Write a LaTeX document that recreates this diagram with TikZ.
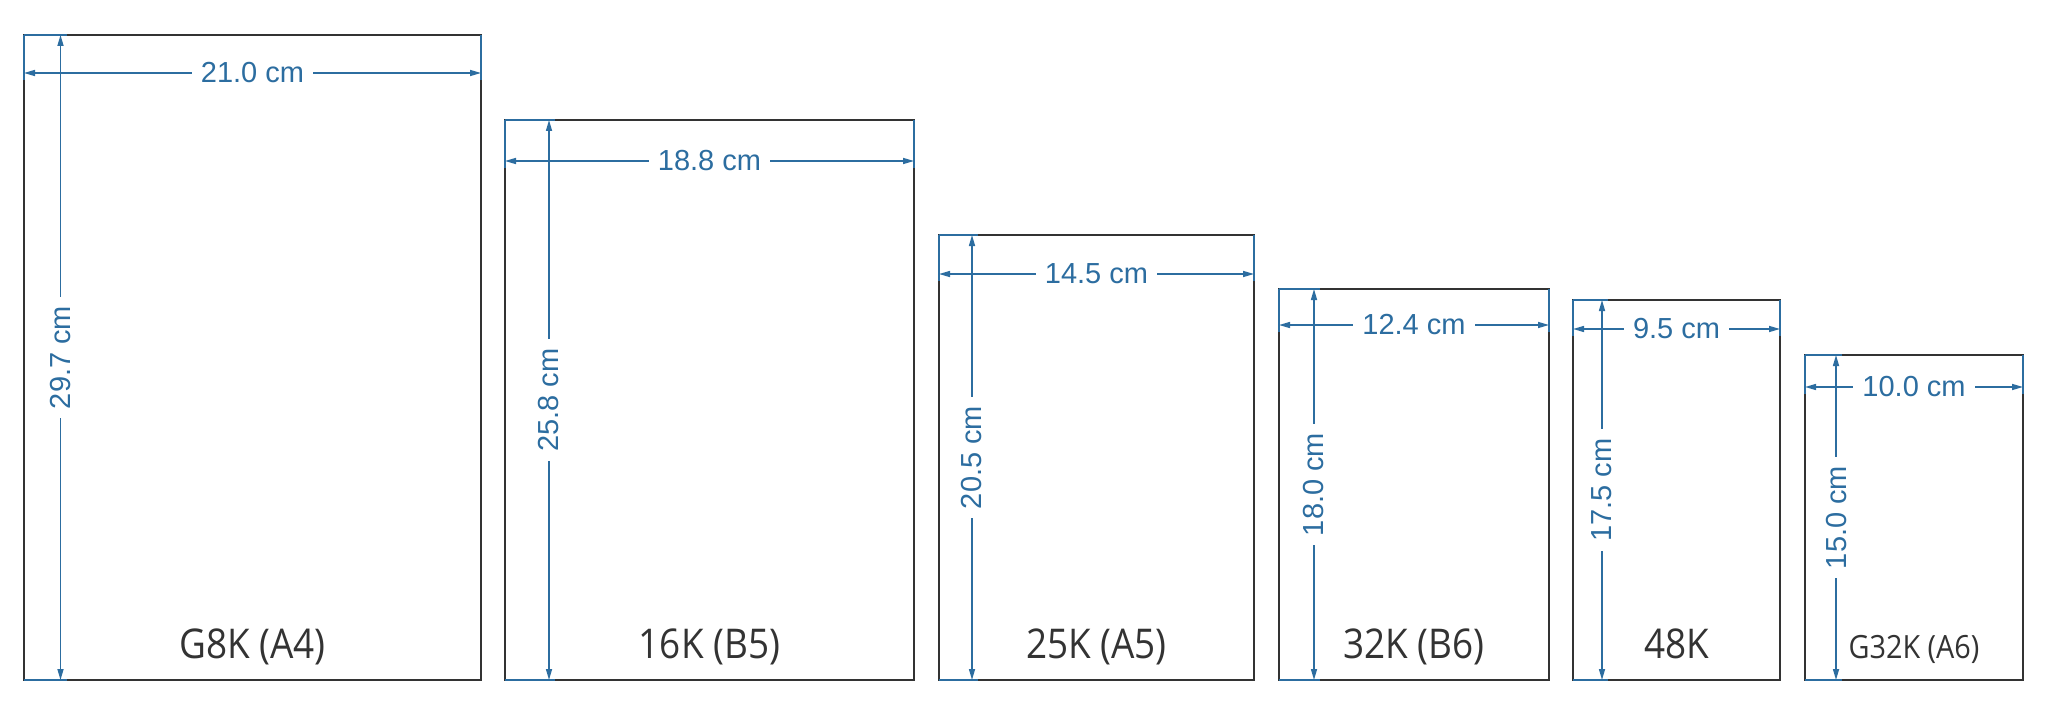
\documentclass[tikz,border=0pt]{standalone}
\usepackage{fontspec}
\setmainfont{Liberation Sans}
\newfontfamily\labfont[FakeStretch=0.9]{Open Sans}
\usetikzlibrary{arrows.meta}
\definecolor{dimblue}{HTML}{2C6DA0}
\definecolor{edgegray}{HTML}{333333}
\tikzset{
  paper/.style={draw=edgegray, line width=2.6pt, inner sep=0pt, outer sep=0pt, rectangle},
  dimline/.style={draw=dimblue, line width=1.5pt, {Triangle[length=11pt,width=6pt]}-{Triangle[length=11pt,width=6pt]}},
  extline/.style={draw=dimblue, line width=1.5pt},
  dimtxt/.style={text=dimblue, fill=white, inner xsep=9pt, inner ysep=1pt, font=\fontsize{29}{29}\selectfont},
  lab/.style={text=edgegray, inner sep=0pt, anchor=base}
}
\begin{document}
\begin{tikzpicture}[x=1pt,y=-1pt]
\fill[white] (0,0) rectangle (2048,706);
\useasboundingbox (0,0) rectangle (2048,706);
\foreach \i/\xl/\xr/\yt/\yb/\vx/\hy/\wtxt/\htxt/\lbl/\lsz in {
  1/24/481/35/680/60.5/73/{21.0 cm}/{29.7 cm}/{G8K (A4)}/41,
  2/505/914/120/680/549/161/{18.8 cm}/{25.8 cm}/{16K (B5)}/41,
  3/939/1254/235/680/972/274/{14.5 cm}/{20.5 cm}/{25K (A5)}/41,
  4/1279/1549/289/680/1314/325/{12.4 cm}/{18.0 cm}/{32K (B6)}/41,
  5/1573/1780/300/680/1602/329/{9.5 cm}/{17.5 cm}/{48K}/41,
  6/1805/2023/355/680/1836/387/{10.0 cm}/{15.0 cm}/{G32K (A6)}/32}
{
  \node[paper, minimum width=\xr pt-\xl pt, minimum height=\yb pt-\yt pt, anchor=north west] (s\i) at (\xl,\yt) {};
  \coordinate (vt\i) at (\vx,\yt);
  \coordinate (vb\i) at (\vx,\yb);
  \coordinate (hl\i) at (\xl,\hy);
  \coordinate (hr\i) at (\xr,\hy);
  \coordinate (et\i) at (\vx+6,\yt);
  \coordinate (eb\i) at (\vx+6,\yb);
  \coordinate (el\i) at (\xl,\hy+7);
  \coordinate (er\i) at (\xr,\hy+7);
  \draw[extline] (s\i.north west) -- (et\i);
  \draw[extline] (s\i.south west) -- (eb\i);
  \draw[extline] (s\i.north west) -- (el\i);
  \draw[extline] (s\i.north east) -- (er\i);
  \draw[dimline] (vt\i) -- node[midway, dimtxt, rotate=90] (vtx\i) {\htxt} (vb\i);
  \draw[dimline] (hl\i) -- node[midway, dimtxt] (htx\i) {\wtxt} (hr\i);
  \node[lab, font=\labfont\fontsize{\lsz}{\lsz}\selectfont] (lab\i) at ({(\xl+\xr)/2},658) {\lbl};
}
\end{tikzpicture}
\end{document}
